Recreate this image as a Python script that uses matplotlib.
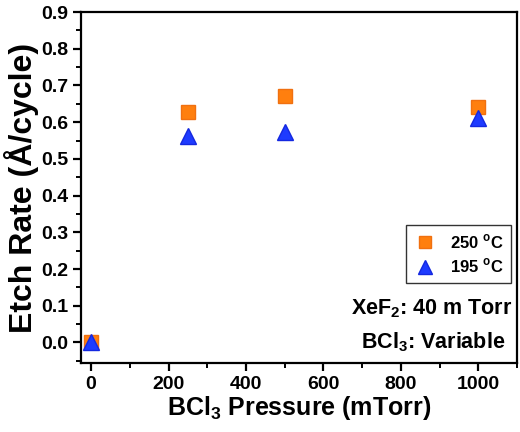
import matplotlib
matplotlib.use("Agg")
import matplotlib.pyplot as plt
from matplotlib.ticker import MultipleLocator

plt.rcParams['font.family'] = ['Liberation Sans', 'DejaVu Sans']
plt.rcParams['mathtext.fontset'] = 'custom'
plt.rcParams['mathtext.rm'] = 'Liberation Sans'
plt.rcParams['mathtext.bf'] = 'Liberation Sans:bold'

pressure = [0, 250, 500, 1000]
rate_250 = [0.0, 0.628, 0.670, 0.640]
rate_195 = [0.0, 0.562, 0.572, 0.612]
labels = ["250 $^{\\mathbf{o}}$C", "195 $^{\\mathbf{o}}$C"]

fig = plt.figure(figsize=(5.2, 4.32), dpi=100)
ax = fig.add_axes([0.1558, 0.1597, 0.8385, 0.8125])

ax.plot(pressure, rate_250, linestyle='none', marker='s', markersize=10,
        color='#FF7F0E', markeredgecolor='#F07010', label=labels[0])
ax.plot(pressure, rate_195, linestyle='none', marker='^', markersize=12,
        color='#1E3BFF', markeredgecolor='#1428E0', label=labels[1])

ax.set_xlim(-26, 1100)
ax.set_ylim(-0.056, 0.9)
ax.xaxis.set_major_locator(MultipleLocator(200))
ax.xaxis.set_minor_locator(MultipleLocator(100))
ax.yaxis.set_major_locator(MultipleLocator(0.1))
ax.yaxis.set_minor_locator(MultipleLocator(0.05))
ax.yaxis.set_major_formatter(plt.FuncFormatter(lambda v, p: f"{v:.1f}"))

for s in ax.spines.values():
    s.set_linewidth(1.6)
ax.tick_params(which='major', direction='out', length=6, width=1.6, labelsize=14, pad=3)
ax.tick_params(which='minor', direction='out', length=3.5, width=1.4)
for lab in ax.get_xticklabels() + ax.get_yticklabels():
    lab.set_fontweight('bold')

ax.set_xlabel("BCl$_\\mathbf{3}$ Pressure (mTorr)", fontsize=18, fontweight='bold', labelpad=1)
ax.set_ylabel("Etch Rate (Å/cycle)", fontsize=23, fontweight='bold', labelpad=2)

leg = ax.legend(loc='lower right', bbox_to_anchor=(0.986, 0.228), borderaxespad=0,
                prop={'size': 12, 'weight': 'bold'}, frameon=True, fancybox=False,
                edgecolor='black', handletextpad=0.8, borderpad=0.45,
                labelspacing=0.35, handlelength=1.4, markerscale=0.8)
leg.get_frame().set_linewidth(1.0)

ax.text(0.99, 0.156, "XeF$_\\mathbf{2}$: 40 m Torr", transform=ax.transAxes,
        ha='right', va='center', fontsize=15.5, fontweight='bold')
ax.text(0.972, 0.059, "BCl$_\\mathbf{3}$: Variable", transform=ax.transAxes,
        ha='right', va='center', fontsize=15.5, fontweight='bold')

fig.savefig("out.png", dpi=100)
